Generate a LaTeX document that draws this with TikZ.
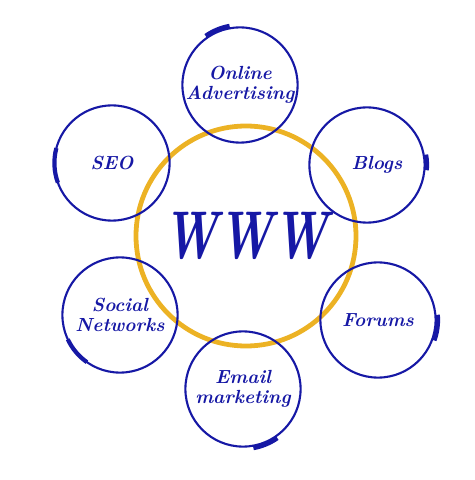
\documentclass[tikz,border=0pt]{standalone}
\usepackage{tikz}
\definecolor{inkblue}{RGB}{22,24,165}
\definecolor{ringgold}{RGB}{236,178,36}
\begin{document}
\begin{tikzpicture}[
hub/.style={circle, draw=ringgold, line width=3.4pt, minimum size=5.5cm, inner sep=0pt},
topic/.style={circle, draw=inkblue, line width=1.5pt, minimum size=2.88cm, inner sep=0pt,
	text=inkblue, align=center, font=\fontsize{13.5}{14.5}\selectfont\bfseries\itshape},
stroke/.style={draw=inkblue, line width=3pt}]
\useasboundingbox (0,0) rectangle (11.85,12);
\node[hub, text=inkblue, font=\fontsize{48}{48}\selectfont\bfseries\itshape] (www) at (6.15,6.1) {\scalebox{0.7}[1]{WWW}};
\node[topic] (ads) at (6.0,9.875) {Online\\Advertising};
\node[topic] (seo) at (2.8,7.925) {SEO};
\node[topic] (blogs) at (9.175,7.875) {\hspace{0.5cm}Blogs};
\node[topic] (social) at (3.0,4.125) {Social\\Networks};
\node[topic] (forums) at (9.45,4.0) {Forums};
\node[topic] (email) at (6.075,2.275) {Email\\marketing};
\draw[stroke] (ads.center) ++(100:1.5) arc (100:125:1.5);
\draw[stroke] (seo.center) ++(165:1.44) arc (165:200:1.44);
\draw[stroke] (blogs.center) ++(10:1.5) arc (10:-5:1.5);
\draw[stroke] (social.center) ++(205:1.44) arc (205:235:1.44);
\draw[stroke] (forums.center) ++(5:1.5) arc (5:-20:1.5);
\draw[stroke] (email.center) ++(-80:1.5) arc (-80:-55:1.5);
\end{tikzpicture}
\end{document}
